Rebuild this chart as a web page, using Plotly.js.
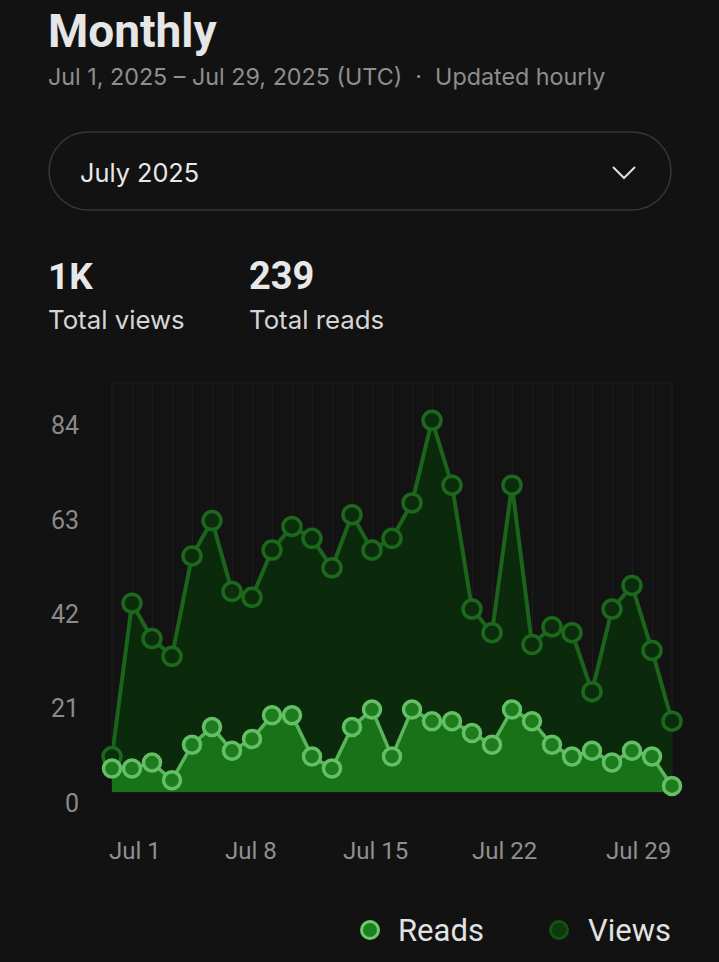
<!DOCTYPE html>
<html>
<head>
<meta charset="utf-8">
<script src="https://cdn.plot.ly/plotly-3.0.1.min.js"></script>
<style>
  html, body { margin: 0; padding: 0; background: #121212; }
  #chart { width: 719px; height: 962px; }
</style>
</head>
<body>
<div id="chart"></div>
<script>
// ---- data ----
const days = [1, 2, 3, 4, 5, 6, 7, 8, 9, 10, 11, 12, 13, 14, 15, 16, 17, 18, 19, 20, 21, 22, 23, 24, 25, 26, 27, 28, 29];
const views = [6, 32, 26, 23, 40, 46, 34, 33, 41, 45, 43, 38, 47, 41, 43, 49, 63, 52, 31, 27, 52, 25, 28, 27, 17, 31, 35, 24, 12];
const reads = [4, 4, 5, 2, 8, 11, 7, 9, 13, 13, 6, 4, 11, 14, 6, 14, 12, 12, 10, 8, 14, 12, 8, 6, 7, 5, 7, 6, 1];
const xTickLabels = ['Jul 1', 'Jul 8', 'Jul 15', 'Jul 22', 'Jul 29'];
const yTickLabels = ['0', '21', '42', '63', '84'];
const totalViewsText = '1K';
const totalReadsText = '239';
const seriesNames = ['Reads', 'Views'];

// ---- layout helpers (pixel -> paper) ----
const W = 719, H = 962;
const M = { l: 112, r: 47, t: 383, b: 170 };
const PW = W - M.l - M.r, PH = H - M.t - M.b;
const X = px => (px - M.l) / PW;
const Y = py => (H - M.b - py) / PH;
const P = (px, py) => X(px).toFixed(5) + ',' + Y(py).toFixed(5);

// label positions on the x axis (in day units) and y tick positions
const xTickPos = [2.15, 7.95, 14.15, 20.62, 27.32];
const yTickPos = [0, 16, 32, 48, 64];

// pill path
function pill(x0, y0, x1, y1) {
  const r = (y1 - y0) / 2, k = 0.5523 * r, cy = (y0 + y1) / 2;
  return 'M' + P(x0 + r, y0) + ' L' + P(x1 - r, y0) +
    ' C' + P(x1 - r + k, y0) + ' ' + P(x1, cy - k) + ' ' + P(x1, cy) +
    ' C' + P(x1, cy + k) + ' ' + P(x1 - r + k, y1) + ' ' + P(x1 - r, y1) +
    ' L' + P(x0 + r, y1) +
    ' C' + P(x0 + r - k, y1) + ' ' + P(x0, cy + k) + ' ' + P(x0, cy) +
    ' C' + P(x0, cy - k) + ' ' + P(x0 + r - k, y0) + ' ' + P(x0 + r, y0) + ' Z';
}

const FONT = 'Roboto, "Liberation Sans", sans-serif';
const FONT2 = 'Inter, Roboto, sans-serif';

const traces = [
  {
    name: seriesNames[1], x: days, y: views, type: 'scatter', mode: 'lines+markers',
    fill: 'tozeroy', fillcolor: '#0b290b',
    line: { color: '#1b641b', width: 4 },
    marker: { size: 18, color: '#0c2d0c', line: { color: '#1c681c', width: 3.5 } },
    cliponaxis: false, hoverinfo: 'skip'
  },
  {
    name: seriesNames[0], x: days, y: reads, type: 'scatter', mode: 'lines+markers',
    fill: 'tozeroy', fillcolor: '#187318',
    line: { color: '#5cb55c', width: 3.5 },
    marker: { size: 17, color: '#1e7c1e', line: { color: '#64c064', width: 3.5 } },
    cliponaxis: false, hoverinfo: 'skip'
  }
];

const ann = (text, px, py, size, color, family) => ({
  text: text, xref: 'paper', yref: 'paper', x: X(px), y: Y(py),
  xanchor: 'left', yanchor: 'middle', showarrow: false,
  font: { family: family || FONT, size: size, color: color }
});

const annotations = [
  ann('<b>Monthly</b>', 46, 31, 46, '#e6e6e6'),
  ann('Jul 1, 2025 – Jul 29, 2025 (UTC)  ·  Updated hourly', 46, 76.5, 23.3, '#8e8e8e', FONT2),
  ann('July 2025', 78, 172.5, 25.3, '#e8e8e8', FONT2),
  ann('<b>' + totalViewsText + '</b>', 46, 276, 37, '#e8e8e8'),
  ann('<b>' + totalReadsText + '</b>', 247, 276, 38, '#e8e8e8'),
  ann('Total views', 46, 319, 25.8, '#d6d6d6', FONT2),
  ann('Total reads', 247, 319, 25.8, '#d6d6d6', FONT2),
  ann(seriesNames[0], 396, 930, 31, '#e2e2e2'),
  ann(seriesNames[1], 586, 930, 31, '#e2e2e2')
];
xTickLabels.forEach((t, i) => {
  annotations.push({
    text: t, xref: 'x', yref: 'paper', x: xTickPos[i], y: Y(851),
    xanchor: 'center', yanchor: 'middle', showarrow: false,
    font: { family: FONT, size: 24, color: '#8f8f8f' }
  });
});

const circ = (px, py, r, fill, stroke) => ({
  type: 'circle', xref: 'paper', yref: 'paper',
  xsizemode: 'pixel', ysizemode: 'pixel', xanchor: X(px), yanchor: Y(py),
  x0: -r, x1: r, y0: -r, y1: r, fillcolor: fill, line: { color: stroke, width: 3 }
});

const shapes = [
  { type: 'rect', xref: 'paper', yref: 'paper', x0: 0, x1: 1, y0: 0, y1: 1,
    line: { color: '#1e1e1e', width: 1 }, layer: 'below' },
  { type: 'path', xref: 'paper', yref: 'paper', path: pill(49, 132, 671, 210),
    line: { color: '#363636', width: 1.5 }, fillcolor: 'rgba(0,0,0,0)' },
  { type: 'path', xref: 'paper', yref: 'paper',
    path: 'M' + P(613, 167) + ' L' + P(624, 178) + ' L' + P(635, 167),
    line: { color: '#e0e0e0', width: 2 } },
  circ(370, 930, 8.5, '#1e801e', '#6ccb6c'),
  circ(559, 930, 8.5, '#0b3a0b', '#145214')
];

const layout = {
  width: W, height: H,
  margin: { l: M.l, r: M.r, t: M.t, b: M.b, pad: 0 },
  paper_bgcolor: '#121212', plot_bgcolor: '#131313',
  showlegend: false,
  font: { family: FONT, color: '#8f8f8f' },
  xaxis: {
    range: [1, 29], tick0: 1, dtick: 1, showgrid: true, gridcolor: '#1d1d1d', gridwidth: 1,
    showticklabels: false, zeroline: false, showline: false, ticks: '', fixedrange: true
  },
  yaxis: {
    range: [0, 69.32], tickvals: yTickPos, ticktext: yTickLabels,
    showgrid: false, zeroline: false, showline: false, ticks: '',
    tickfont: { family: FONT, size: 25, color: '#8a8a8a' },
    ticklabelstandoff: 32, ticklabelshift: 11, fixedrange: true
  },
  annotations: annotations,
  shapes: shapes
};

Plotly.newPlot('chart', traces, layout, { staticPlot: true, displayModeBar: false });
</script>
</body>
</html>
